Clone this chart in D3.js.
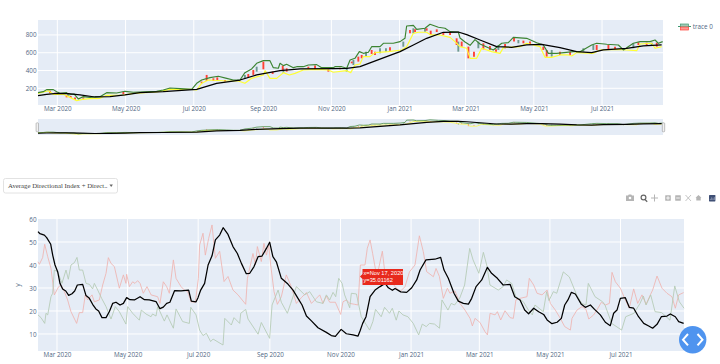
<!DOCTYPE html>
<html><head><meta charset="utf-8">
<script src="https://cdn.jsdelivr.net/npm/d3@7/dist/d3.min.js"></script>
<style>html,body{margin:0;padding:0;background:#fff;overflow:hidden}svg{display:block}</style>
</head><body><svg id="c" width="720" height="364"></svg>
<script>
// ---------- price panel (days are offsets from priceStart) ----------
const priceTicksY=[200,400,600,800];
const upperDays=[0,4.7,7.7,13.7,16.7,19.7,25.6,27.1,32.2,36,40.5,46.5,55.4,61.4,70.3,77.8,85.2,106,112,118,127,137.4,141.9,146.3,153.8,161.2,168.7,174.6,180.6,185,191,195.5,201.5,207.4,210.4,214.9,216.4,219.4,222.3,228.3,231.3,237.2,241.7,249.2,253.6,264,265.5,271.5,276,279,283.4,287.3,290.9,295.4,298.3,305.8,308.8,317.7,323.7,328.1,329.6,335.6,338.6,346,350.5,358,363.9,368.4,375.8,377.3,381.8,386.3,390.7,395.2,407.1,414.6,420.5,425,436.9,445.9,451.8,456.3,463.8,478.7,484.6,495,499.5,508.5,518.9,523.4,532.3,538.3,547.2,551.7,554.7,558.5];
const upperVals=[151,162,185,185,162,143,151,125,136,80,106,98,106,151,147,166,155,166,181,203,196,188,256,293,320,335,312,293,293,376,417,481,511,511,432,425,481,455,470,432,443,443,462,466,432,432,443,443,425,518,537,612,593,605,668,668,706,706,725,762,901,908,863,875,920,886,875,837,833,766,721,683,747,698,631,706,713,773,762,713,687,593,593,612,612,687,706,695,687,631,706,725,725,743,706,725];
const lowerDays=[0,9.2,13.7,22.6,27.1,34.6,40.5,46.5,55.4,61.4,76.3,85.2,106,118,137.4,141.9,146.3,152.3,168.7,179.1,185,191,201.5,203,207.4,213.4,219.4,224.7,229.8,237.2,249.2,259.6,264,276,279.6,283.4,287.9,290.9,296.8,301.3,313.2,325.2,329.6,335.6,340,347.5,351.1,359.4,368.4,372.8,377.3,383.3,386.3,392.2,396.7,405.6,413.1,416.1,431,436.9,448.9,453.3,459.3,466.7,474.2,477.2,481.6,496.5,502.5,514.4,526.3,535.3,538.3,548.7,551.7,557.6];
const lowerVals=[143,173,132,132,106,61,76,83,87,121,125,143,158,188,188,181,256,293,282,282,256,312,350,398,312,312,376,350,368,406,413,406,380,398,376,462,473,556,556,601,612,631,668,818,830,830,800,800,773,725,668,650,537,537,650,612,593,657,668,706,668,548,548,575,575,563,601,593,631,638,631,623,698,706,650,668];
const smaDays=[0,7.7,16.7,27.1,37.5,51,64.4,77.8,91.2,112,141.9,159.7,180.6,195.5,216.4,234.3,264,276,287.9,299.8,311.7,323.7,335.6,347.5,362.4,375.8,383.3,395.2,410.1,423.5,436.9,450.3,466.7,481.6,495,505.5,526.3,541.2,557.6];
const smaVals=[117,132,143,140,125,102,106,125,151,162,188,256,293,350,398,417,421,425,443,500,556,612,687,762,830,833,803,743,668,661,687,695,657,612,601,631,650,676,687];
const downDays=[10.7,15.2,25.6,29.2,33.1,40.5,76.3,118,146.3,150.8,156.8,160.3,167.2,188,192.5,201.5,209.8,218.8,222.3,241.7,247.7,259.6,270,280.5,286.4,289.4,298.3,301.3,314.7,332.6,337.1,347.5,351.1,356.5,362.4,368.4,374.3,378.8,384.8,389.8,398.2,404.1,409.5,417.6,425.6,434,439.9,451.8,454.8,466.7,475.7,499.5,510,515.9,536.8,544.2,553.2];
const downOpen=[173,151,125,113,95,98,162,196,275,350,312,323,293,361,406,500,387,455,425,443,455,413,432,500,556,575,631,612,661,856,863,875,848,863,833,837,762,725,668,612,706,676,638,698,773,736,725,668,631,612,612,687,687,668,717,713,713];
const downClose=[143,136,98,91,68,83,136,181,256,282,282,293,275,323,350,413,361,406,387,425,417,387,413,481,500,537,586,575,623,818,833,848,800,833,800,800,687,668,537,556,638,631,612,650,725,706,687,631,556,575,575,631,638,631,687,687,668];
const upDays=[185,195.5,219.4,276,282,293.3,305.8,311.1,326.6,335.6,346,375.8,393.7,411.6,429.5,459.3,487.6,496.5,532.3,548.7];
const upOpen=[312,387,376,387,462,556,593,612,668,818,837,612,650,631,706,556,612,631,650,687];
const upClose=[350,443,425,425,518,612,650,650,725,875,875,725,725,687,743,631,650,687,706,713];

// ---------- indicator panel (days are offsets from adxStart) ----------
const indicatorTicksY=[10,20,30,40,50,60];
const adxDays=[0,1.7,5.5,7.5,11,12.7,14.7,17,19,21.3,24,26.5,29.4,31.7,34,38.6,41.5,44.4,47.2,50,52.4,55.3,58.8,61.6,64.5,67.4,70.9,73.8,76.6,79.5,83.3,88.2,92,96.2,102,105.4,108.3,111.2,114,118,123.6,130.2,132.5,136.6,138.3,140.6,144,147,150.4,153.3,157,160,164.2,168.5,172.3,175.8,180,183,186.7,190.2,193.6,197.4,200.2,203,206,210.3,216,220.4,224.7,228.2,232,236.3,242,249.2,253.5,257,262,266.5,272.3,276.6,278.3,280.6,283.5,287,291.3,295.6,300,302.8,306.3,308.6,313.5,318.6,323,327.3,330.2,335.3,343,348,350.9,354.6,359.5,363.3,367.6,372,374.8,378.6,383.5,388.4,392,397,402,408,412,416.6,420.6,424,428.4,432.7,437,440,444.2,448.6,452.3,455.2,458,461,464.4,469.6,473,477.4,481,486,490.3,494.6,497.5,500.4,503.3,507.6,511,514.8,519,523.5,527.8,531.2,535,538.7,543.6,546.5,550.8,553.7,558];
const adxVals=[54.5,53.6,53,51.9,49,44.3,40,37.1,32,29.6,28.7,26.8,27.5,28.7,31.3,31.6,26.7,25.5,22.9,20.9,20,17.1,17.1,19.7,23.3,23.8,22.6,23.3,25.8,24.9,24.8,26.2,24.9,24.8,24.1,21,21.7,23.3,23.8,28.8,28.7,29.1,24.3,24,25.8,29.1,32,40,44,50.9,53,56.2,53.3,48,45,40.7,36.2,36.4,39.3,43.6,43.9,47.2,49.9,43.6,41.4,34.2,31.7,29.1,25.5,22.6,17.8,15.7,12.7,10.7,9.3,9,12,10.1,9.6,9.1,11.3,14.6,17.5,26.2,29.1,30.6,32,30.1,29,29.8,28.3,28.1,30.1,33.5,37.8,42.2,42.5,43.3,37.8,34.2,27.7,24.3,23.3,23,25.5,30.6,33.5,39,36.4,34.2,31.3,31.6,26.2,24.8,20.4,18.8,21.2,19.7,18.5,16.1,14.5,15.1,16.8,22.6,24.8,28.1,27.4,22.9,21.6,22.6,20.7,18.3,15.1,13.6,19,20.4,25.5,25.8,21.6,21.2,17.5,14.6,13.5,12.5,14.2,17.5,17.8,18.7,17.5,15.4,14.6];
const minusDays=[0,1.2,4,5.8,8.4,11.2,14.1,17.9,19.9,22.8,25.6,28.5,33.4,35.7,38.6,40.9,42.9,46.7,48.7,53,55.9,58.8,60.8,63.1,66,70.3,73.8,76,76.6,79,81.8,83.8,86.1,88.2,91,94.2,97.7,103.4,105.4,108.3,111.2,113.5,117,119.3,123.6,126.5,129.4,132.2,136,138.6,139.7,142.6,144.6,147.5,150.4,153.3,157,160.8,164.2,168.5,172.9,179.5,181,185.8,187.9,189.6,193,195.3,197.4,199.4,201.1,204,206.9,210.3,214.6,218.9,223.3,227.6,232,236.3,240.6,243.5,246.3,249.2,252.1,257,261.6,263.6,266.5,269.4,273.7,276.6,278.6,282.6,284.6,287,289.2,291.8,294.1,297.6,300,304.2,308.6,312.9,317.2,321,325.8,329.6,333,335.9,341.7,344,346.9,350.3,353.8,356,360.4,364.7,369,373.4,375.4,377.7,382,386.3,388.4,390.7,395,397,399.9,403.6,408,410.8,413,416.6,422.6,424.6,428.4,431.3,435.6,440,442.8,447.1,451.4,455.2,460.1,461.5,465.8,470.2,473.6,476,480.2,483,486.9,490.3,493.8,496.1,499,503.3,507.6,511,514.8,518.3,522,525.5,529.2,531.2,535,539.3,543.6,547.9,550.8,553.7,558];
const minusVals=[41.4,40.3,43.2,49,43.6,38.6,27,30.6,31.3,28.4,24.8,19.7,14.6,19.3,19.3,27,24.8,27,24,24.8,31.3,36.4,43.2,40.7,39.3,29.9,35.7,32,36,30.6,32.7,32,33.2,32,27.7,30.6,27,26.2,23.3,32.7,30.6,27.7,42.2,34.2,30.6,29.1,28.4,24,23.8,34.2,48.7,53.8,44.3,51.6,57.4,42.9,46,32.8,35,29.1,27,22.9,34.2,45,40,48,41.5,49.4,44.3,48.7,40,28.4,22.9,26.2,35.7,30.6,23.3,25.8,28,23.3,25.5,27,23.3,26.5,23.8,23.8,18.5,24,24.8,23.3,22.9,22.6,40,40,47.3,50.9,45,37.8,37.8,46,35.7,33.5,30.6,28.4,30.6,37,40,52.7,45.8,37.1,34.9,38.5,35,25.5,29.9,27.7,28.7,23.3,20.4,16.8,13.5,16.8,15,11,9.6,19,18.3,19.7,16.1,20.1,17.1,16.8,24.8,25.5,26.2,34.2,31.3,27.7,27,29.1,23.3,20.4,16.8,13.2,11.7,16.8,20.4,21.9,20.7,16.5,18.3,20.4,23.8,22.6,23.3,36.8,32.7,29.9,24.8,21.2,29.6,23.3,27,22.9,27,29.1,35.2,29.9,27.7,26.2,21.2,27,28];
const plusDays=[0,2.6,5.8,6.9,8.4,11.2,12.7,14.1,17,20.7,24.2,26.2,28.5,31.4,33.7,35.7,38.6,41.5,44.4,47.2,48.7,51.6,55,58.8,63.1,66.8,70.3,76,77.5,81.8,87.6,89.3,93.3,97.7,99,102,103.4,109.2,111.5,117,119.3,125,130.8,132,136.6,139.7,142.6,145.5,149.2,151.3,159.9,161.4,167.1,169.4,174.3,175.2,179.5,181.5,190.2,193,200.2,202.3,207.5,210.3,215.5,218.4,223.3,230.5,234.8,240.6,246.3,249.2,252.1,255,257.3,259.9,262.8,265,269.4,270.8,275.2,277.2,279.4,286.6,289.4,291.7,296.6,299.5,303.8,306.2,309.6,311.9,315.4,319.7,324.3,329,332.1,335.5,338.4,342.7,347,349.1,354.3,357.1,360,364.4,368.7,373.1,376,381,384.9,387.8,390.6,397.8,402,405,409.4,413,419.5,423.8,427.2,429.5,436.7,439.6,441.6,445.4,448.3,454,459.2,465.5,469.9,473.6,475.6,481.4,488,490,495.8,504.4,507.9,515,520.3,523.2,525.5,529.5,533.3,539,546.2,550.3,554.3,558.3];
const plusVals=[18.3,17.1,14.6,19,18.3,26.2,27.7,37.8,37.1,32,37.8,33.8,40,41,43.3,37.8,37.8,32,31.6,29.6,32,29.1,25.5,21.9,16.5,21.9,19.7,14.3,21.9,19,16,20.4,18.7,17.5,18.7,17.8,21.9,15.6,18.3,12.5,20.9,15.4,14.6,21.6,18.3,11.7,9.3,10.3,6.7,7.8,5.2,16.8,13.9,17.1,14.6,19,20.7,16.5,9.9,15,8.1,22.6,29.1,23.8,19,23.3,30.6,27,28.4,24,23.3,27,24.8,28.1,26.2,34.2,32,27,21.4,27.7,27.4,22.6,17.5,11.7,15.4,20.7,17.5,21.6,19,21.2,16,20,18.3,17.5,14.6,9.6,14.3,13.2,14.6,14.3,12.5,24.8,20.4,23.3,22.6,25.5,31.3,47.2,42.2,36.4,45.5,40,31.3,29.1,30.6,33.5,32,26.2,24,20.4,18.3,22.6,19.7,28.4,24.5,28.4,27.7,37,34.8,27,23.3,22.6,32,26.2,24,22.6,14.6,11.7,17.5,19,23.3,26.5,22.6,27,19.7,19.3,16,30.9,24,21.2];
const monthTicks=["2020-03-01","2020-05-01","2020-07-01","2020-09-01","2020-11-01","2021-01-01","2021-03-01","2021-05-01","2021-07-01"];
const hoverDate="2020-11-17", hoverValue=35.01162;
const dropdownLabel="Average Directional Index + Direct..";
const legendLabel="trace 0";

const svg=d3.select("#c");
const FONT='"Open Sans",Verdana,sans-serif', TICK="#506784", BG="#e5ecf6", FS=6.3;
const priceStart=new Date(Date.UTC(2020,1,12,17)), adxStart=new Date(Date.UTC(2020,1,13,14));
const dayMs=864e5;
const pd=d=>new Date(+priceStart+d*dayMs), ad=d=>new Date(+adxStart+d*dayMs);
const parse=d3.utcParse("%Y-%m-%d"), fmt=d3.utcFormat("%b %Y");
const tickDates=monthTicks.map(parse);

const xTop=d3.scaleUtc().domain([pd(0),pd(558.8)]).range([38,663]);
const yTop=d3.scaleLinear().domain([12,968]).range([105,20]);
const ySlide=d3.scaleLinear().domain([12,968]).range([135,119]);
const xBot=d3.scaleUtc().domain([ad(0),ad(558.3)]).range([38,684]);
const yBot=d3.scaleLinear().domain([2.6,60]).range([351,219]);

function panel(x,y,ticksY,x0,x1,yTopPx,yBotPx){
  const g=svg.append("g");
  g.append("rect").attr("x",x0).attr("y",yTopPx).attr("width",x1-x0).attr("height",yBotPx-yTopPx).attr("fill",BG);
  g.append("g").selectAll("line").data(tickDates).join("line").attr("x1",x).attr("x2",x).attr("y1",yTopPx).attr("y2",yBotPx).attr("stroke","#fff").attr("stroke-width",1);
  g.append("g").selectAll("line").data(ticksY.filter(v=>y(v)>yTopPx+1)).join("line").attr("y1",y).attr("y2",y).attr("x1",x0).attr("x2",x1).attr("stroke","#fff").attr("stroke-width",1);
  const ax=g.append("g").attr("transform",`translate(0,${yBotPx+6.3})`).call(d3.axisBottom(x).tickValues(tickDates).tickFormat(fmt).tickSize(0).tickPadding(0));
  const ay=g.append("g").attr("transform",`translate(${x0-1.5},0)`).call(d3.axisLeft(y).tickValues(ticksY).tickSize(0).tickPadding(0));
  [ax,ay].forEach(a=>{a.select(".domain").remove();a.selectAll("text").attr("fill",TICK).attr("font-family",FONT).attr("font-size",FS);});
  ax.selectAll("text").attr("dy",0).attr("y",0);
  return g;
}
const zip=(a,b)=>a.map((d,i)=>[d,b[i]]);
function pline(g,pts,x,y,toDate,color,w,op){
  g.append("path").attr("d",d3.line().x(p=>x(toDate(p[0]))).y(p=>y(p[1]))(pts)).attr("fill","none").attr("stroke",color).attr("stroke-width",w).attr("opacity",op||1).attr("stroke-linejoin","round");
}
function priceMarks(g,x,y,bodyW,lw,sw){
  g.append("g").selectAll("line").data(zip(upDays,upOpen).map((p,i)=>[p[0],p[1],upClose[i]])).join("line")
    .attr("x1",d=>x(pd(d[0]))).attr("x2",d=>x(pd(d[0]))).attr("y1",d=>y(d[1])).attr("y2",d=>y(d[2])).attr("stroke","#6f9a90").attr("stroke-width",bodyW);
  g.append("g").selectAll("line").data(zip(downDays,downOpen).map((p,i)=>[p[0],p[1],downClose[i]])).join("line")
    .attr("x1",d=>x(pd(d[0]))).attr("x2",d=>x(pd(d[0]))).attr("y1",d=>y(d[1])).attr("y2",d=>y(d[2])).attr("stroke","#ff4136").attr("stroke-width",bodyW);
  pline(g,zip(lowerDays,lowerVals),x,y,pd,"#ffff33",lw);
  pline(g,zip(upperDays,upperVals),x,y,pd,"#3c8432",lw);
  pline(g,zip(smaDays,smaVals),x,y,pd,"#000",sw);
}
const topG=panel(xTop,yTop,priceTicksY,38,663,20,105);
priceMarks(topG,xTop,yTop,1.9,1.15,1.25);

const sl=svg.append("g");
sl.append("rect").attr("x",38).attr("y",119).attr("width",625).attr("height",16).attr("fill",BG);
priceMarks(sl,xTop,ySlide,.6,.7,1.2);
[37.3,663.5].forEach(px=>sl.append("rect").attr("x",px-1.2).attr("y",122.8).attr("width",2.4).attr("height",9).attr("rx",.8).attr("fill","#f2f2f2").attr("stroke","#999").attr("stroke-width",.6));

const lg=svg.append("g");
lg.append("line").attr("x1",678).attr("x2",691).attr("y1",26.5).attr("y2",26.5).attr("stroke","#3D9970").attr("stroke-width",1);
lg.append("rect").attr("x",680.5).attr("y",24).attr("width",8).attr("height",3).attr("fill","#9fc8b4").attr("stroke","#3D9970").attr("stroke-width",.7);
lg.append("rect").attr("x",680.5).attr("y",27).attr("width",8).attr("height",3).attr("fill","#ff9a94").attr("stroke","#ff4136").attr("stroke-width",.7);
lg.append("text").attr("x",692.7).attr("y",28.8).attr("fill",TICK).attr("font-family",FONT).attr("font-size",FS).text(legendLabel);

const dd=svg.append("g");
dd.append("rect").attr("x",3.5).attr("y",178.5).attr("width",114).attr("height",14.5).attr("rx",2).attr("fill","#fff").attr("stroke","#e2e2e2");
dd.append("text").attr("x",8).attr("y",188).attr("font-family",'"Liberation Serif",serif').attr("font-size",6.8).attr("fill","#444").text(dropdownLabel);
dd.append("path").attr("d","M109.5 184.5h3.4l-1.7 2.6z").attr("fill","#666");

const tb=svg.append("g").attr("fill","#b5b5b5").attr("stroke","none");
tb.append("path").attr("d","M626 195.5h2l.8-1h2.4l.8 1h2v5.5h-8z");
tb.append("circle").attr("cx",630).attr("cy",198).attr("r",1.3).attr("fill","#fff");
tb.append("circle").attr("cx",643.5).attr("cy",197.5).attr("r",2.4).attr("fill","none").attr("stroke","#666").attr("stroke-width",1.2);
tb.append("path").attr("d","M645 199.5l2.2 2.2").attr("stroke","#666").attr("stroke-width",1.3);
tb.append("path").attr("d","M654.5 194.5v7M651 198h7").attr("stroke","#b5b5b5").attr("stroke-width",1);
[668,678].forEach((cx,i)=>{tb.append("rect").attr("x",cx-2.8).attr("y",195.2).attr("width",5.6).attr("height",5.6).attr("rx",.5);
  tb.append("path").attr("d",i?`M${cx-1.8} 198h3.6`:`M${cx-1.8} 198h3.6M${cx} 196.2v3.6`).attr("stroke","#fff").attr("stroke-width",.9);});
tb.append("path").attr("d","M685.5 195l5.5 6M691 195l-5.5 6").attr("stroke","#b5b5b5").attr("stroke-width",.8);
tb.append("path").attr("d","M698.5 195l3 2.8h-.8v2.7h-4.4v-2.7h-.8z");
tb.append("rect").attr("x",709).attr("y",195).attr("width",6.4).attr("height",6.4).attr("rx",.6).attr("fill","#3f4f75");
tb.append("path").attr("d","M710.3 200v-1.2M711.7 200v-2.6M713 200v-1.6M714.3 200v-2.9").attr("stroke","#cfd6e6").attr("stroke-width",.5);

const botG=panel(xBot,yBot,indicatorTicksY,38,684,219,351);
pline(botG,zip(minusDays,minusVals),xBot,yBot,ad,"#efb4b0",.85);
pline(botG,zip(plusDays,plusVals),xBot,yBot,ad,"#b4cab3",.85);
pline(botG,zip(adxDays,adxVals),xBot,yBot,ad,"#000",1.25);
svg.append("text").attr("transform","translate(20,285) rotate(-90)").attr("text-anchor","middle").attr("fill",TICK).attr("font-family",FONT).attr("font-size",7).text("y");

const hx=xBot(parse(hoverDate))+1, hy=yBot(hoverValue);
const hv=svg.append("g");
hv.append("path").attr("d",`M${hx} ${hy}l2.5 -2.5v-5h40.5v16h-40.5v-6z`).attr("fill","#e8291c");
const HOVER_FONT='"Liberation Sans",Arial,sans-serif';
hv.append("text").attr("x",hx+3.5).attr("y",hy-1.5).attr("fill","#fff").attr("font-family",HOVER_FONT).attr("font-size",5.7).text("x=Nov 17, 2020");
hv.append("text").attr("x",hx+3.5).attr("y",hy+6).attr("fill","#fff").attr("font-family",HOVER_FONT).attr("font-size",5.7).text("y="+hoverValue);

const fb=svg.append("g");
fb.append("circle").attr("cx",692.7).attr("cy",339.7).attr("r",13.7).attr("fill","#4f94ef");
fb.append("path").attr("d","M688 334l-5 5.7 5 5.7M697.5 334l5 5.7-5 5.7").attr("fill","none").attr("stroke","#fff").attr("stroke-width",2);
</script></body></html>
